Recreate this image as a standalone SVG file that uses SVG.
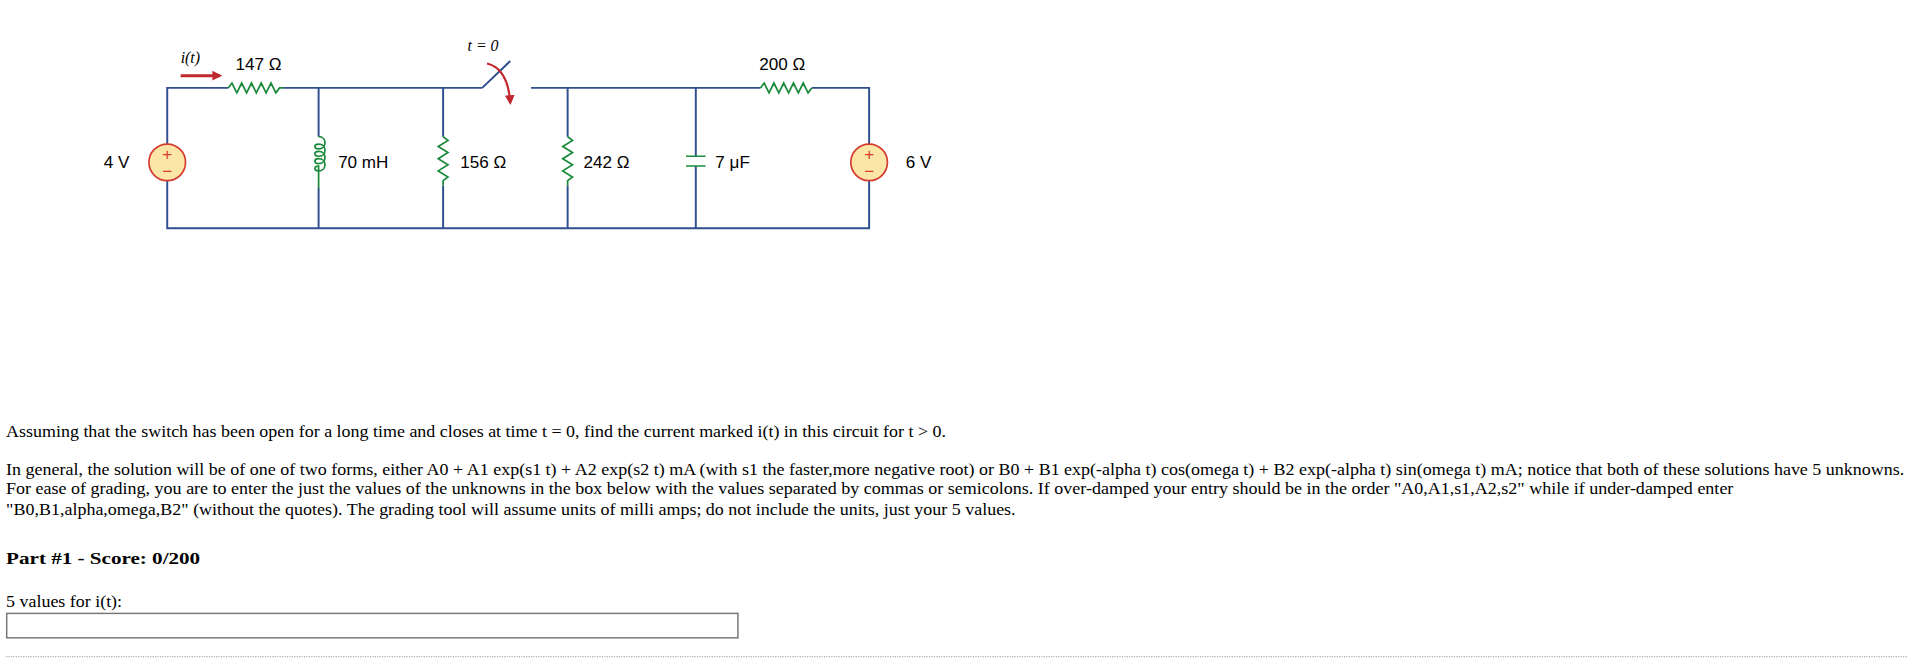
<svg xmlns="http://www.w3.org/2000/svg" width="1914" height="664" viewBox="0 0 1914 664">
<style>
.w{stroke:#2f4f8f;stroke-width:1.6;fill:none}
.g{stroke:#1a8a3a;stroke-width:1.4;fill:none}
.lbl{font-family:"Liberation Sans",Arial,sans-serif;font-size:14px;fill:#000}
.it{font-family:"Liberation Serif",serif;font-style:italic;font-size:13px;fill:#000}
.t{font-family:"Liberation Serif","Times New Roman",serif;font-size:13.5px;fill:#000}
.src{fill:#fbe6a8;stroke:#d63b2f;stroke-width:1.4}
.pm{font-family:"Liberation Sans",sans-serif;font-size:14px;fill:#d63b2f;text-anchor:middle}
</style>
<defs>
<marker id="ah" markerWidth="8" markerHeight="8" refX="6" refY="4" orient="auto" markerUnits="userSpaceOnUse"><path d="M0,0 L8,4 L0,8 Z" fill="#c0282d"/></marker>
</defs>
<rect width="1914" height="664" fill="#fff"/>
<g transform="scale(1.2207)">
<g id="connectors">
<path class="w" d="M137,118 V72 H187 M232,72 H395 M435,72 H623 M665,72 H712 V118 M137,148 V187 H712 V148"/>
<path class="w" d="M261,72 V112 M261,154 V187 M363,72 V112 M363,152 V187 M465,72 V112 M465,152 V187 M570,72 V128 M570,136 V187"/>
<path class="w" d="M395,72 L418,50"/>
<path d="M148,62 H180" stroke="#c0282d" stroke-width="2.5" marker-end="url(#ah)"/>
<path d="M399,52 Q416,56 418,84" stroke="#c0282d" stroke-width="1.8" fill="none" marker-end="url(#ah)"/>
</g>
<g id="v4"><circle class="src" cx="137" cy="133" r="15"/><text class="pm" x="137" y="131">+</text><text class="pm" x="137" y="145">−</text><text class="lbl" x="85" y="138">4 V</text></g>
<g id="r147"><path class="g" d="M187,72 l3,-4 l4,8 l4,-8 l4,8 l4,-8 l4,8 l4,-8 l4,8 l4,-8 l4,8 l3,-4 H232"/><text class="lbl" x="193" y="57">147 Ω</text><text class="it" x="148" y="52">i(t)</text></g>
<g id="l70"><path class="g" d="M261,112 c7,0 7,10 0,10 c-4,0 -4,-4 0,-4 c7,0 7,10 0,10 c-4,0 -4,-4 0,-4 c7,0 7,10 0,10 c-4,0 -4,-4 0,-4 c7,0 7,10 0,10 c-4,0 -4,-4 0,-4 V154"/><text class="lbl" x="277" y="138">70 mH</text></g>
<g id="r156"><path class="g" d="M363,112 l4,3 l-8,5 l8,5 l-8,5 l8,5 l-8,5 l8,5 l-4,3 V152"/><text class="lbl" x="377" y="138">156 Ω</text></g>
<g id="sw"><text class="it" x="383" y="42">t = 0</text></g>
<g id="r242"><path class="g" d="M465,112 l4,3 l-8,5 l8,5 l-8,5 l8,5 l-8,5 l8,5 l-4,3 V152"/><text class="lbl" x="478" y="138">242 Ω</text></g>
<g id="c7"><path class="g" d="M562,128 H578 M562,136 H578" stroke-width="2"/><text class="lbl" x="586" y="138">7 μF</text></g>
<g id="r200"><path class="g" d="M623,72 l3,-4 l4,8 l4,-8 l4,8 l4,-8 l4,8 l4,-8 l4,8 l4,-8 l4,8 l3,-4 H665"/><text class="lbl" x="622" y="57">200 Ω</text></g>
<g id="v6"><circle class="src" cx="712" cy="133" r="15"/><text class="pm" x="712" y="131">+</text><text class="pm" x="712" y="145">−</text><text class="lbl" x="742" y="138">6 V</text></g>
<g id="text">
<text class="t" x="5" y="358" textLength="770" lengthAdjust="spacingAndGlyphs">Assuming that the switch has been open for a long time and closes at time t = 0, find the current marked i(t) in this circuit for t &gt; 0.</text>
<text class="t" x="5" y="389" textLength="1555" lengthAdjust="spacingAndGlyphs">In general, the solution will be of one of two forms, either A0 + A1 exp(s1 t) + A2 exp(s2 t) mA (with s1 the faster,more negative root) or B0 + B1 exp(-alpha t) cos(omega t) + B2 exp(-alpha t) sin(omega t) mA; notice that both of these solutions have 5 unknowns.</text>
<text class="t" x="5" y="405" textLength="1415" lengthAdjust="spacingAndGlyphs">For ease of grading, you are to enter the just the values of the unknowns in the box below with the values separated by commas or semicolons. If over-damped your entry should be in the order "A0,A1,s1,A2,s2" while if under-damped enter</text>
<text class="t" x="5" y="422" textLength="827" lengthAdjust="spacingAndGlyphs">"B0,B1,alpha,omega,B2" (without the quotes). The grading tool will assume units of milli amps; do not include the units, just your 5 values.</text>
<text class="t" x="5" y="462" font-weight="bold" font-size="16" textLength="159" lengthAdjust="spacingAndGlyphs">Part #1 - Score: 0/200</text>
<text class="t" x="5" y="497" textLength="95" lengthAdjust="spacingAndGlyphs">5 values for i(t):</text>
<rect x="5.5" y="502.5" width="599" height="20" fill="#fff" stroke="#767676" stroke-width="1.2"/>
<path d="M5,538 H1563" stroke="#999" stroke-width="1" stroke-dasharray="1,1"/>
</g>
</g>
</svg>
